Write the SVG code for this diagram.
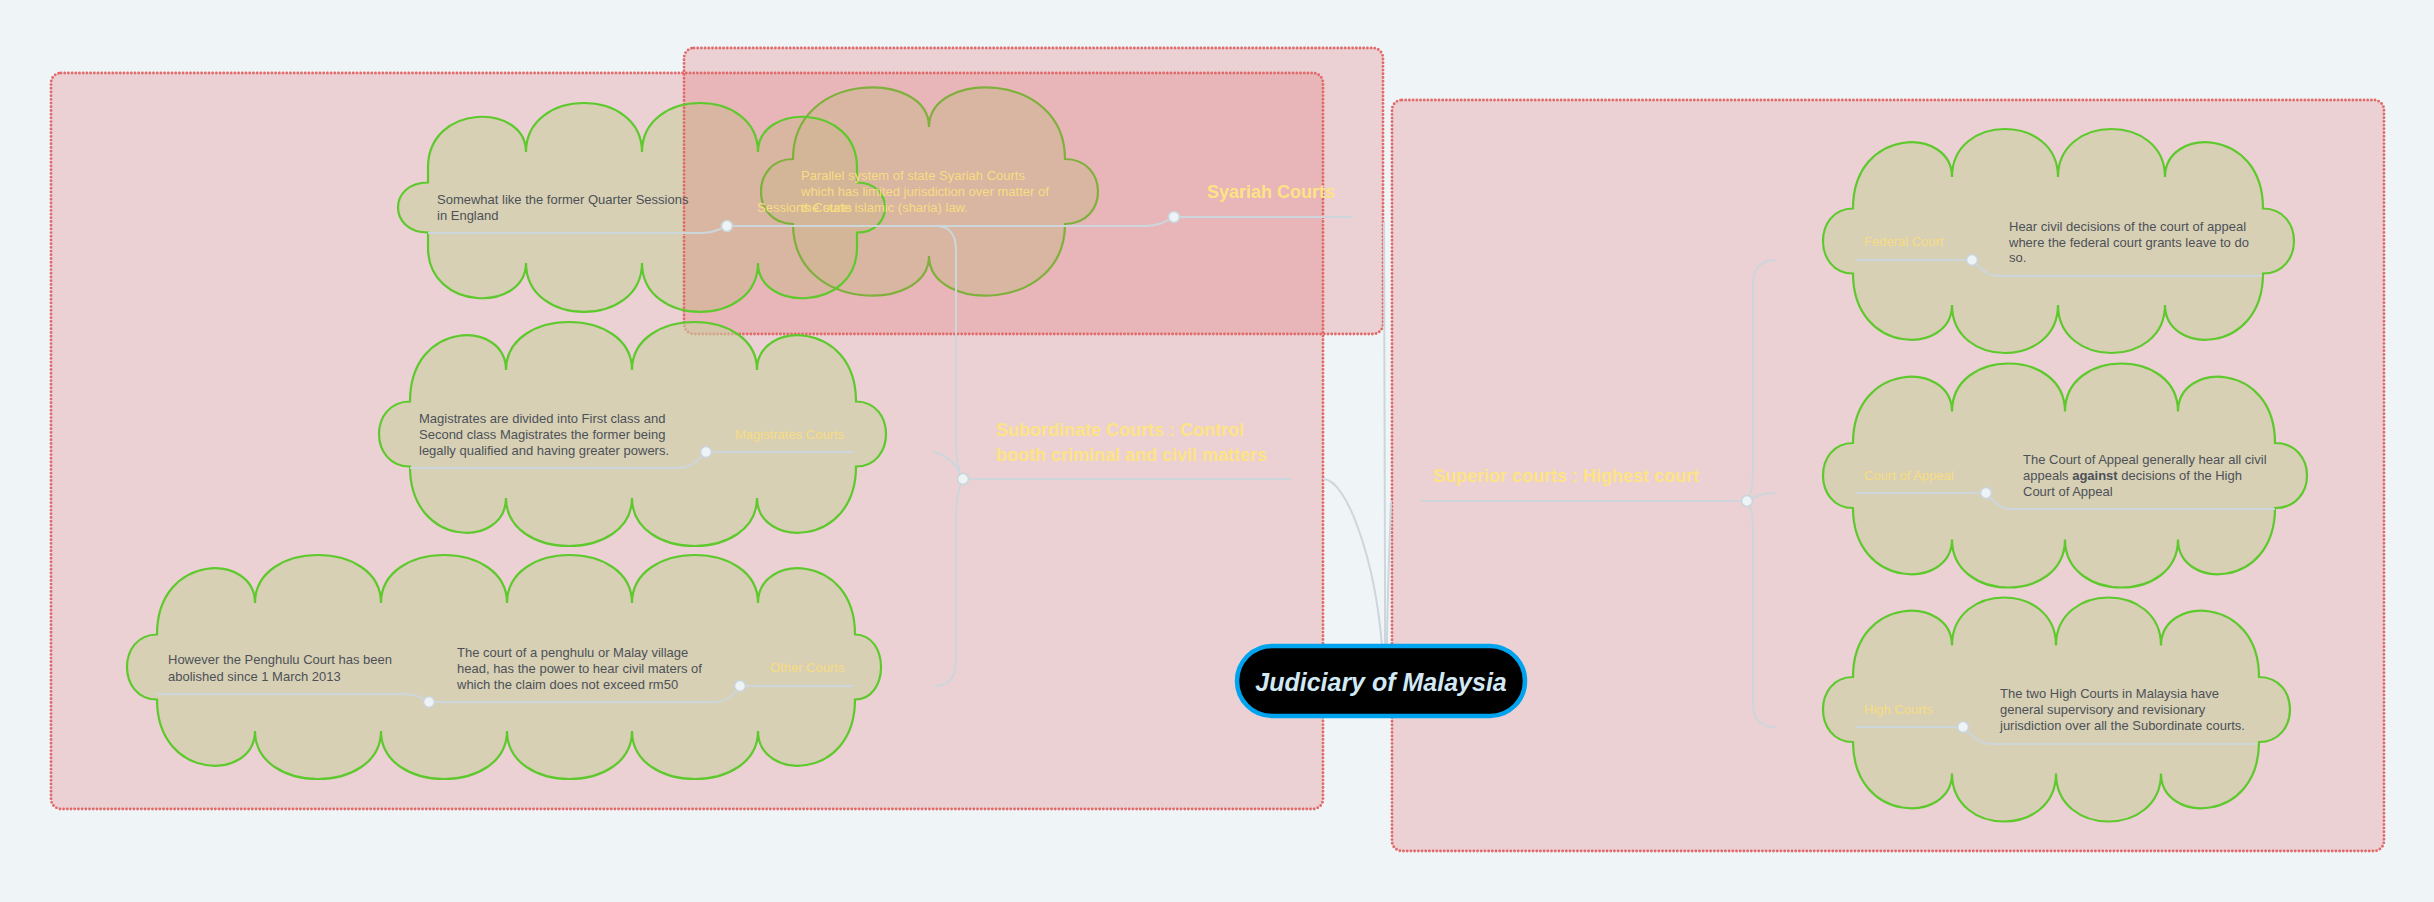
<svg xmlns="http://www.w3.org/2000/svg" width="2434" height="902" viewBox="0 0 2434 902">
<style>
.bnd{fill:#e06666;fill-opacity:0.25;stroke:#e36a6a;stroke-width:2.9;stroke-dasharray:0 3.7;stroke-linecap:round}
.cloud{fill:#cacea1;fill-opacity:0.6;stroke:#5ec92d;stroke-width:2.2}
.cfill{fill:#cacea1;fill-opacity:0.6;stroke:none}
.cline{fill:none;stroke:#5ec92d;stroke-width:2.2}
.con{fill:none;stroke:#cdd6db;stroke-width:2}
.dot{fill:#eef3f6;stroke:#cbd4da;stroke-width:1.6}
.leaf{font-family:"Liberation Sans",Arial,sans-serif;font-size:13px;fill:#4d5157}
.lbl{font-family:"Liberation Sans",Arial,sans-serif;font-size:13px;fill:#f8dc82}
.main{font-family:"Liberation Sans",Arial,sans-serif;font-size:18px;font-weight:bold;fill:#fde384}
.root{font-family:"Liberation Sans",Arial,sans-serif;font-size:25px;font-weight:bold;font-style:italic;fill:#d2e9f5}
</style>
<rect width="2434" height="902" fill="#eff4f7"/>

<g id="boundary-subordinate"><rect class="bnd" x="51" y="73" width="1272" height="736" rx="10"/></g>
<g id="boundary-superior"><rect class="bnd" x="1392" y="100" width="992" height="751" rx="10"/></g>

<g id="cloud-sessions-fill">
<path class="cfill" d="M428 182.5 L428 167.5 C428 102.75 526 102.75 526 152 C526 86.7 642 86.7 642 152 C642 86.7 758 86.7 758 152 C758 102.75 857 102.75 857 167.5 L857 182.5 C894.3 182.5 894.3 232.5 857 232.5 L857 247.5 C857 312.25 758 312.25 758 263 C758 328.3 642 328.3 642 263 C642 328.3 526 328.3 526 263 C526 312.25 428 312.25 428 247.5 L428 232.5 C388 232.5 388 182.5 428 182.5 Z"/>
</g>
<g id="cloud-syariah">
<path class="cloud" d="M793 159 C793 69.7 929 69.7 929 127 C929 69.7 1065 69.7 1065 159 C1109 159 1109 224 1065 224 C1065 313.3 929 313.3 929 256 C929 313.3 793 313.3 793 224 C750.3 224 750.3 159 793 159 Z"/>
</g>
<g id="boundary-syariah"><rect class="bnd" x="684" y="48" width="699" height="286" rx="10"/></g>
<g id="cloud-sessions-outline">
<path class="cline" d="M428 182.5 L428 167.5 C428 102.75 526 102.75 526 152 C526 86.7 642 86.7 642 152 C642 86.7 758 86.7 758 152 C758 102.75 857 102.75 857 167.5 L857 182.5 C894.3 182.5 894.3 232.5 857 232.5 L857 247.5 C857 312.25 758 312.25 758 263 C758 328.3 642 328.3 642 263 C642 328.3 526 328.3 526 263 C526 312.25 428 312.25 428 247.5 L428 232.5 C388 232.5 388 182.5 428 182.5 Z"/>
</g>
<g id="cloud-magistrates">
<path class="cloud" d="M410 401.5 C410 319.4 506 319.4 506 370 C506 306 632 306 632 370 C632 306 757 306 757 370 C757 319.4 856 319.4 856 401.5 C896 401.5 896 466.5 856 466.5 C856 548.6 757 548.6 757 498 C757 562 632 562 632 498 C632 562 506 562 506 498 C506 548.6 410 548.6 410 466.5 C368.7 466.5 368.7 401.5 410 401.5 Z"/>
</g>
<g id="cloud-other">
<path class="cloud" d="M157 634.5 C157 552.4 255 552.4 255 603 C255 539 381 539 381 603 C381 539 507 539 507 603 C507 539 632 539 632 603 C632 539 758 539 758 603 C758 552.4 855 552.4 855 634.5 C889.7 634.5 889.7 699.5 855 699.5 C855 781.6 758 781.6 758 731 C758 795 632 795 632 731 C632 795 507 795 507 731 C507 795 381 795 381 731 C381 795 255 795 255 731 C255 781.6 157 781.6 157 699.5 C117 699.5 117 634.5 157 634.5 Z"/>
</g>
<g id="cloud-federal">
<path class="cloud" d="M1853 208.5 C1853 126.4 1952 126.4 1952 177 C1952 113 2058 113 2058 177 C2058 113 2165 113 2165 177 C2165 126.4 2263 126.4 2263 208.5 C2304.3 208.5 2304.3 273.5 2263 273.5 C2263 355.6 2165 355.6 2165 305 C2165 369 2058 369 2058 305 C2058 369 1952 369 1952 305 C1952 355.6 1853 355.6 1853 273.5 C1813 273.5 1813 208.5 1853 208.5 Z"/>
</g>
<g id="cloud-appeal">
<path class="cloud" d="M1853 443 C1853 360.9 1952 360.9 1952 411.5 C1952 347.5 2065 347.5 2065 411.5 C2065 347.5 2178 347.5 2178 411.5 C2178 360.9 2275 360.9 2275 443 C2317.7 443 2317.7 508 2275 508 C2275 590.1 2178 590.1 2178 539.5 C2178 603.5 2065 603.5 2065 539.5 C2065 603.5 1952 603.5 1952 539.5 C1952 590.1 1853 590.1 1853 508 C1813 508 1813 443 1853 443 Z"/>
</g>
<g id="cloud-high">
<path class="cloud" d="M1853 677 C1853 594.9 1952 594.9 1952 645.5 C1952 581.5 2056 581.5 2056 645.5 C2056 581.5 2161 581.5 2161 645.5 C2161 594.9 2259 594.9 2259 677 C2300.3 677 2300.3 742 2259 742 C2259 824.1 2161 824.1 2161 773.5 C2161 837.5 2056 837.5 2056 773.5 C2056 837.5 1952 837.5 1952 773.5 C1952 824.1 1853 824.1 1853 742 C1813 742 1813 677 1853 677 Z"/>
</g>

<g id="connectors">
<path class="con" d="M1323 479 C1347 479 1375 560 1382 646"/>
<path class="con" d="M1384 222 C1385 350 1385 500 1385 646"/>
<path class="con" d="M1391 502 C1389 560 1387 610 1387 646"/>
<path class="con" d="M963 479 L1291 479"/>
<path class="con" d="M1421 501 L1747 501"/>
<path class="con" d="M1174 217 L1353 217"/>
<path class="con" d="M963 479 C958 470 956 460 956 440 L956 250 C956 236 950 226 937 226"/>
<path class="con" d="M963 479 C958 468 950 455 933 452"/>
<path class="con" d="M963 479 C958 488 956 500 956 520 L956 660 C956 676 950 686 935 686"/>
<path class="con" d="M727 226 L937 226"/>
<path class="con" d="M727 226 C718 230 712 233 701 233 L428 233"/>
<path class="con" d="M1174 217 C1165 222 1158 226 1145 226 L793 226"/>
<path class="con" d="M706 452 L854 452"/>
<path class="con" d="M706 452 C697 462 690 468 678 468 L410 468"/>
<path class="con" d="M740 686 L854 686"/>
<path class="con" d="M740 686 C732 698 725 702 712 702 L429 702"/>
<path class="con" d="M429 702 C420 696 414 694 401 694 L157 694"/>
<path class="con" d="M1747 501 C1753 492 1753 480 1753 460 L1753 285 C1753 270 1760 260 1775 260"/>
<path class="con" d="M1747 501 C1755 496 1763 493 1775 493"/>
<path class="con" d="M1747 501 C1753 510 1753 520 1753 540 L1753 705 C1753 718 1760 727 1775 727"/>
<path class="con" d="M1855 260 L1972 260"/>
<path class="con" d="M1972 260 C1982 270 1988 276 2000 276 L2262 276"/>
<path class="con" d="M1855 493 L1986 493"/>
<path class="con" d="M1986 493 C1996 503 2000 509 2010 509 L2275 509"/>
<path class="con" d="M1855 727 L1963 727"/>
<path class="con" d="M1963 727 C1973 737 1980 744 1992 744 L2257 744"/>
<circle class="dot" cx="963" cy="479" r="5.5"/>
<circle class="dot" cx="1747" cy="501" r="5.5"/>
<circle class="dot" cx="1174" cy="217" r="5.5"/>
<circle class="dot" cx="727" cy="226" r="5.5"/>
<circle class="dot" cx="706" cy="452" r="5.5"/>
<circle class="dot" cx="740" cy="686" r="5.5"/>
<circle class="dot" cx="429" cy="702" r="5.5"/>
<circle class="dot" cx="1972" cy="260" r="5.5"/>
<circle class="dot" cx="1986" cy="493" r="5.5"/>
<circle class="dot" cx="1963" cy="727" r="5.5"/>
</g>

<g id="node-quarter-sessions"><text class="leaf" x="437" y="204">Somewhat like the former Quarter Sessions</text><text class="leaf" x="437" y="220">in England</text></g>
<g id="node-sessions"><text class="lbl" x="757" y="212">Sessions Courts</text></g>
<g id="node-parallel"><text class="lbl" x="801" y="180">Parallel system of state Syariah Courts</text><text class="lbl" x="801" y="196">which has limited jurisdiction over matter of</text><text class="lbl" x="801" y="212">the state islamic (sharia) law.</text></g>
<g id="node-syariah"><text class="main" x="1207" y="197.5">Syariah Courts</text></g>
<g id="node-magistrates-leaf"><text class="leaf" x="419" y="423">Magistrates are divided into First class and</text><text class="leaf" x="419" y="439">Second class Magistrates the former being</text><text class="leaf" x="419" y="455">legally qualified and having greater powers.</text></g>
<g id="node-magistrates"><text class="lbl" x="735" y="439">Magistrates Courts</text></g>
<g id="node-subordinate"><text class="main" x="996" y="435.5">Subordinate Courts : Control</text><text class="main" x="996" y="460.5">booth criminal and civil matters</text></g>
<g id="node-abolished"><text class="leaf" x="168" y="664">However the Penghulu Court has been</text><text class="leaf" x="168" y="681">abolished since 1 March 2013</text></g>
<g id="node-penghulu"><text class="leaf" x="457" y="657">The court of a penghulu or Malay village</text><text class="leaf" x="457" y="673">head, has the power to hear civil maters of</text><text class="leaf" x="457" y="689">which the claim does not exceed rm50</text></g>
<g id="node-other"><text class="lbl" x="770" y="672">Other Courts</text></g>
<g id="node-central"><rect x="1237" y="646" width="288" height="70" rx="35" fill="#000" stroke="#00a3ee" stroke-width="4.5"/><text class="root" x="1381" y="691" text-anchor="middle">Judiciary of Malaysia</text></g>
<g id="node-superior"><text class="main" x="1433" y="481.5">Superior courts : Highest court</text></g>
<g id="node-federal"><text class="lbl" x="1864" y="246">Federal Court</text></g>
<g id="node-federal-leaf"><text class="leaf" x="2009" y="231">Hear civil decisions of the court of appeal</text><text class="leaf" x="2009" y="247">where the federal court grants leave to do</text><text class="leaf" x="2009" y="262">so.</text></g>
<g id="node-appeal"><text class="lbl" x="1864" y="480">Court of Appeal</text></g>
<g id="node-appeal-leaf"><text class="leaf" x="2023" y="464">The Court of Appeal generally hear all civil</text><text class="leaf" x="2023" y="480">appeals <tspan font-weight="bold">against</tspan> decisions of the High</text><text class="leaf" x="2023" y="496">Court of Appeal</text></g>
<g id="node-high"><text class="lbl" x="1864" y="714">High Courts</text></g>
<g id="node-high-leaf"><text class="leaf" x="2000" y="698">The two High Courts in Malaysia have</text><text class="leaf" x="2000" y="714">general supervisory and revisionary</text><text class="leaf" x="2000" y="730">jurisdiction over all the Subordinate courts.</text></g>
</svg>
